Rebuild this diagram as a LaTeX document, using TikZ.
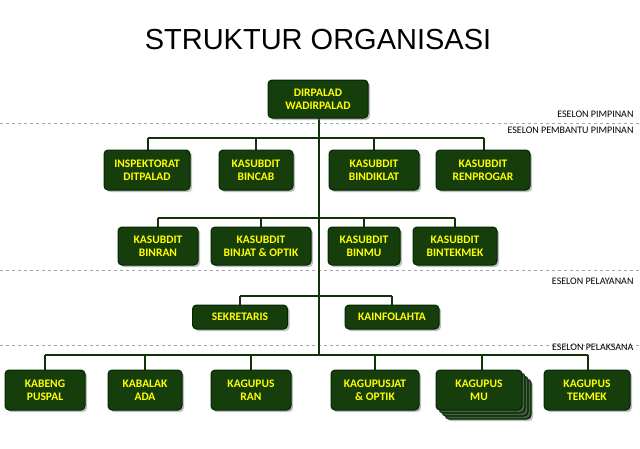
\documentclass[tikz,border=0pt]{standalone}
\usepackage{fontspec}
\setmainfont{Liberation Sans}
\newfontfamily\carlitofont{Carlito}
\usetikzlibrary{shadows}
\definecolor{boxg}{RGB}{22,62,12}
\definecolor{lineg}{RGB}{18,50,10}
\definecolor{txty}{RGB}{255,255,0}
\tikzset{
  ob/.style={draw=black!85!green, line width=1pt, fill=boxg, rounded corners=4pt,
    text=txty, font=\carlitofont\bfseries\fontsize{11.5}{13}\selectfont, align=center,
    inner sep=0pt, drop shadow={shadow xshift=2pt, shadow yshift=-2pt, opacity=0.5}},
  cn/.style={draw=lineg, line width=2.5pt},
  sep/.style={draw=gray!70, dashed, line width=0.6pt},
  esl/.style={anchor=east, font=\carlitofont\fontsize{10}{11}\selectfont}
}
\newcommand{\obox}[6]{\node[ob, minimum width=#3pt, minimum height=#4pt] (#1) at (#2) {#5\\#6};}
\begin{document}
\begin{tikzpicture}[x=1pt,y=-1pt]
\useasboundingbox[fill=white] (0,0) rectangle (640,448);
\node (title) at (318,40) {\fontsize{29}{32}\selectfont STRUKTUR ORGANISASI};
% separators
\draw[sep] (0,123) -- (640,123);
\draw[sep] (0,270) -- (640,270);
\draw[sep] (0,345) -- (640,345);
\node[esl] (e1) at (637,114) {ESELON PIMPINAN};
\node[esl] (e2) at (637,130) {ESELON PEMBANTU PIMPINAN};
\node[esl] (e3) at (637,281) {ESELON PELAYANAN};
\node[esl] (e4) at (637,347) {ESELON PELAKSANA};
% coordinates
\coordinate (t4) at (319,355);
% connectors (drawn under boxes)
\draw[cn] (319,110) -- (t4);
\draw[cn] (148,138) -- (484,138);
\draw[cn] (158,218) -- (455,218);
\draw[cn] (240,296) -- (392,296);
\draw[cn] (45,355) -- (588,355);
\foreach \x in {148,256,374,484} \draw[cn] (\x,138) -- (\x,160);
\foreach \x in {158,261,364,455} \draw[cn] (\x,218) -- (\x,240);
\foreach \x in {240,392} \draw[cn] (\x,296) -- (\x,310);
\foreach \x in {45,145,251,375,482,588} \draw[cn] (\x,355) -- (\x,380);
% boxes
\obox{dir}{318,99}{100}{38}{DIRPALAD}{WADIRPALAD}
\obox{insp}{147,170}{86}{40}{INSPEKTORAT}{DITPALAD}
\obox{bincab}{256,170}{74}{40}{KASUBDIT}{BINCAB}
\obox{bindik}{374,170}{90}{40}{KASUBDIT}{BINDIKLAT}
\obox{renp}{483,170}{94}{40}{KASUBDIT}{RENPROGAR}
\obox{binran}{158,246}{80}{38}{KASUBDIT}{BINRAN}
\obox{binjat}{261,246}{100}{38}{KASUBDIT}{BINJAT \& OPTIK}
\obox{binmu}{364,246}{72}{38}{KASUBDIT}{BINMU}
\obox{bintek}{455,246}{84}{38}{KASUBDIT}{BINTEKMEK}
\node[ob, minimum width=95pt, minimum height=24pt] (sekr) at (240,317) {SEKRETARIS};
\node[ob, minimum width=94pt, minimum height=24pt] (kainf) at (392,317) {KAINFOLAHTA};
\obox{kabeng}{45,390}{80}{40}{KABENG}{PUSPAL}
\obox{kabalak}{145,390}{74}{40}{KABALAK}{ADA}
\obox{ran}{251,390}{80}{40}{KAGUPUS}{RAN}
\obox{jat}{375,390}{88}{40}{KAGUPUSJAT}{\& OPTIK}
\foreach \d in {9,6,3}
  \node[ob, minimum width=86pt, minimum height=40pt] at (479+\d,390+\d) {\phantom{X}\\\phantom{X}};
\obox{mu}{479,390}{86}{40}{KAGUPUS}{MU}
\obox{tek}{587,390}{86}{40}{KAGUPUS}{TEKMEK}
\end{tikzpicture}
\end{document}
